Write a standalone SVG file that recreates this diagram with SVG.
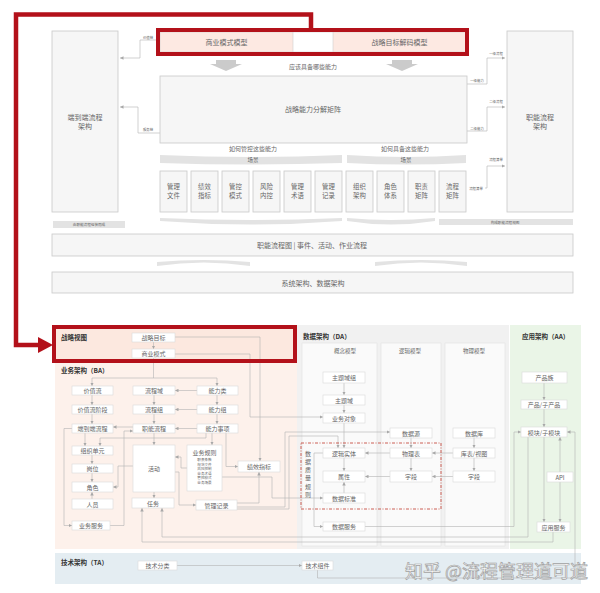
<svg xmlns="http://www.w3.org/2000/svg" width="600" height="593" viewBox="0 0 600 593">
<defs>
<marker id="a" viewBox="0 0 6 6" refX="6" refY="3" markerUnits="userSpaceOnUse" markerWidth="3.5" markerHeight="3.5" orient="auto"><path d="M0,0 L6,3 L0,6 z" fill="#a8a8a8"/></marker>
</defs>
<style>
text{font-family:"Noto Sans CJK SC","Noto Sans",sans-serif;fill:#666;text-anchor:middle;dominant-baseline:central}
.s7{font-size:7px}.s65{font-size:6.4px}.s6{font-size:6px}.s5{font-size:5.5px}.s4{font-size:3.6px}.s3{font-size:3.4px}
.tl{font-size:6.5px;font-weight:bold;fill:#333;text-anchor:start}
.g{fill:#f6f6f6;stroke:#c9c9c9;stroke-width:0.8}
.n{fill:#fff;stroke:#d9d9d9;stroke-width:0.6}
.band{fill:#e3e3e3}
.ln{fill:none;stroke:#b3b3b3;stroke-width:0.6}
.red{fill:none;stroke:#b3111a;stroke-width:4.5}
</style>

<!-- backgrounds bottom -->
<rect x="55" y="325" width="242" height="224" fill="#fdf1eb"/>
<rect x="297" y="325" width="212" height="224" fill="#f1f1f1"/>
<rect x="302" y="343" width="75" height="203" fill="#fafafa" stroke="#e2e2e2" stroke-width="0.6"/>
<rect x="381" y="343" width="60" height="203" fill="#fafafa" stroke="#e2e2e2" stroke-width="0.6"/>
<rect x="445" y="343" width="60" height="203" fill="#fafafa" stroke="#e2e2e2" stroke-width="0.6"/>
<rect x="510" y="325" width="71" height="224" fill="#eaf5e7"/>
<rect x="55" y="553" width="526" height="31" fill="#e4edf2"/>
<rect x="54" y="327" width="241" height="34" fill="#fce8df"/>

<!-- connectors -->
<g id="connectors">
<path class="ln" d="M160 40 L140 40 L140 58 L120 58" marker-end="url(#a)"/>
<path class="ln" d="M160 133 L138 133 L138 107 L120 107" marker-end="url(#a)"/>
<path class="ln" d="M467 84 L487 84 L487 58 L505 58" marker-end="url(#a)"/>
<path class="ln" d="M467 131 L487 131 L487 107 L505 107" marker-end="url(#a)"/>
<path class="ln" d="M485 188 L487 188 L487 166 L505 166" marker-end="url(#a)"/>
<path class="ln" d="M153.5 342 L153.5 349" marker-end="url(#a)"/>
<path class="ln" d="M153.5 358 L153.5 378 M92 378 L217 378"/>
<path class="ln" d="M92 378 L92 386" marker-end="url(#a)"/>
<path class="ln" d="M217 378 L217 386" marker-end="url(#a)"/>
<path class="ln" d="M175 337 L260 337 L260 461" marker-end="url(#a)"/>
<path class="ln" d="M175 354 L250 354 L250 417 L323 417" marker-end="url(#a)"/>
<path class="ln" d="M92 395 L92 405" marker-end="url(#a)"/>
<path class="ln" d="M92 414 L92 424" marker-end="url(#a)"/>
<path class="ln" d="M154 395 L154 405" marker-end="url(#a)"/>
<path class="ln" d="M154 414 L154 424" marker-end="url(#a)"/>
<path class="ln" d="M217 395 L217 405" marker-end="url(#a)"/>
<path class="ln" d="M217 414 L217 424" marker-end="url(#a)"/>
<path class="ln" d="M197 390.5 L175 390.5" marker-end="url(#a)"/>
<path class="ln" d="M197 409.5 L175 409.5" marker-end="url(#a)"/>
<path class="ln" d="M197 428.5 L175 428.5" marker-end="url(#a)"/>
<path class="ln" d="M133 427 L113 427" marker-end="url(#a)"/>
<path class="ln" d="M110 525.5 L124 525.5 L124 431 L133 431" marker-end="url(#a)"/>
<path class="ln" d="M72 428.5 L64 428.5 L64 525.5 L72 525.5" marker-end="url(#a)"/>
<path class="ln" d="M85 433 L85 446" marker-end="url(#a)"/>
<path class="ln" d="M206 433 L206 438 L100 438 L100 446" marker-end="url(#a)"/>
<path class="ln" d="M154 433 L154 445" marker-end="url(#a)"/>
<path class="ln" d="M212 433 L212 445" marker-end="url(#a)"/>
<path class="ln" d="M226 433 L226 466.5 L238 466.5" marker-end="url(#a)"/>
<path class="ln" d="M187 468 L181 468 L181 457 L175 457" marker-end="url(#a)"/>
<path class="ln" d="M154 492 L154 498" marker-end="url(#a)"/>
<path class="ln" d="M175 472 L179 472 L179 505 L196 505" marker-end="url(#a)"/>
<path class="ln" d="M133 466 L118 466 L118 487 L113 487" marker-end="url(#a)"/>
<path class="ln" d="M92 455 L92 464" marker-end="url(#a)"/>
<path class="ln" d="M92 473 L92 482" marker-end="url(#a)"/>
<path class="ln" d="M92 499 L92 492" marker-end="url(#a)"/>
<path class="ln" d="M237 503 L259 503 L259 472" marker-end="url(#a)"/>
<path class="ln" d="M222 477 L272 477 L272 498 L323 498" marker-end="url(#a)"/>
<path class="ln" d="M237 507 L285 507 L285 432 L390 432" marker-end="url(#a)"/>
<path class="ln" d="M237 509 L289 509 L289 436 L338 436 L338 448" marker-end="url(#a)"/>
<path class="ln" d="M344 383 L344 395" marker-end="url(#a)"/>
<path class="ln" d="M344 405 L344 413" marker-end="url(#a)"/>
<path class="ln" d="M344 423 L344 448" marker-end="url(#a)"/>
<path class="ln" d="M411 438 L411 448" marker-end="url(#a)"/>
<path class="ln" d="M411 458 L411 471" marker-end="url(#a)"/>
<path class="ln" d="M390 453 L365 453" marker-end="url(#a)"/>
<path class="ln" d="M390 476.5 L365 476.5" marker-end="url(#a)"/>
<path class="ln" d="M344 458 L344 471" marker-end="url(#a)"/>
<path class="ln" d="M344 493 L344 482" marker-end="url(#a)"/>
<path class="ln" d="M474 438 L474 448" marker-end="url(#a)"/>
<path class="ln" d="M474 458 L474 471" marker-end="url(#a)"/>
<path class="ln" d="M453 453 L432 453" marker-end="url(#a)"/>
<path class="ln" d="M453 476.5 L432 476.5" marker-end="url(#a)"/>
<path class="ln" d="M323 453 L314 453 L314 526.5 L323 526.5" marker-end="url(#a)"/>
<path class="ln" d="M365 526.5 L514 526.5 L514 432 L521 432" marker-end="url(#a)"/>
<path class="ln" d="M544 383 L544 400" marker-end="url(#a)"/>
<path class="ln" d="M544 409 L544 427" marker-end="url(#a)"/>
<path class="ln" d="M544 437 L544 522" marker-end="url(#a)"/>
<path class="ln" d="M560 472 L560 437" marker-end="url(#a)"/>
<path class="ln" d="M560 482 L560 522" marker-end="url(#a)"/>
<path class="ln" d="M317.5 570 L317.5 578 L575 578 L575 432 L567 432" marker-end="url(#a)"/>
<path class="ln" d="M177 565.5 L302 565.5" marker-end="url(#a)"/>
<path class="ln" d="M553 532 L553 542 L142 542 L142 508" marker-end="url(#a)"/>
<path class="ln" d="M528 437 L528 537 L162 537 L162 508" marker-end="url(#a)"/>
</g>

<!-- red highlight -->
<path class="red" d="M311 30 L311 14.5 L16 14.5 L16 345 L40 345"/>
<polygon points="38,337 53,345 38,353" fill="#b3111a"/>

<!-- top section -->
<g id="top-models">
<rect x="160" y="32" width="306" height="20" fill="#fff" stroke="#d0d0d0" stroke-width="0.6"/>
<rect x="160" y="32" width="133" height="20" fill="#fde9e2" stroke="#d0d0d0" stroke-width="0.6"/>
<rect x="333" y="32" width="133" height="20" fill="#fde9e2" stroke="#d0d0d0" stroke-width="0.6"/>
<text class="s7" x="226.5" y="42">商业模式模型</text>
<text class="s7" x="399.5" y="42">战略目标解码模型</text>
<rect x="158" y="30" width="309" height="24" fill="none" stroke="#b3111a" stroke-width="4"/>
</g>
<g id="down-arrows" fill="#cbcbcb">
<polygon points="216,60 236,60 236,64 242,64 226,71 210,64 216,64"/>
<polygon points="392,60 412,60 412,64 418,64 402,71 386,64 392,64"/>
</g>
<text class="s6" x="313" y="66">应该具备哪些能力</text>

<g id="e2e-arch"><rect class="g" x="52" y="31" width="66" height="181"/><text class="s7" x="85" y="117">端到端流程</text><text class="s7" x="85" y="126">架构</text></g>
<g id="func-arch"><rect class="g" x="507" y="31" width="66" height="181"/><text class="s7" x="540" y="117">职能流程</text><text class="s7" x="540" y="126">架构</text></g>
<g id="matrix"><rect class="g" x="160" y="76" width="307" height="67"/><text class="s7" x="313" y="109">战略能力分解矩阵</text></g>

<g id="small-labels">
<text class="s3" x="148" y="37">价值链</text>
<text class="s3" x="148" y="129">服务链</text>
<text class="s3" x="477" y="80.5">一级能力</text>
<text class="s3" x="496" y="53">一级流程</text>
<text class="s3" x="477" y="128">二级能力</text>
<text class="s3" x="496" y="101">二级流程</text>
<text class="s3" x="476" y="188">流程清单</text>
<text class="s3" x="496" y="159">流程清单</text>
</g>

<text class="s6" x="253" y="148">如何管控这些能力</text>
<text class="s6" x="405" y="148">如何具备这些能力</text>

<g id="bands">
<path class="band" d="M160 155 Q251 159 342 155 L342 163 Q251 166 160 163 Z"/>
<path class="band" d="M347 155 Q406 159 466 155 L466 163 Q406 166 347 163 Z"/>
<text class="s5" x="253" y="160">场景</text>
<text class="s5" x="406" y="160">场景</text>
<path class="band" d="M160 218 Q251 222 342 218 L342 221 Q251 228 160 221 Z"/>
<path class="band" d="M347 218 Q391 222 435 218 L435 221 Q391 228 347 221 Z"/>
<path class="band" d="M439 219 L573 219 L573 225 L439 225 Z"/>
<text class="s4" x="505" y="222">构成职能流程视图</text>
<path class="band" d="M53 221 L125 221 L125 228 L53 228 Z"/>
<text class="s4" x="89" y="224.5">由职能流程组装而成</text>
<path class="band" d="M157 266 Q204 259 250 266 L250 262 Q204 258 157 262 Z"/>
<path class="band" d="M375 266 Q421 259 467 266 L467 262 Q421 258 375 262 Z"/>
</g>

<g id="scene-boxes">
<rect class="g" x="160" y="171" width="27" height="41"/><text class="s65" x="173.5" y="186.5">管理</text><text class="s65" x="173.5" y="195.5">文件</text>
<rect class="g" x="191" y="171" width="27" height="41"/><text class="s65" x="204.5" y="186.5">绩效</text><text class="s65" x="204.5" y="195.5">指标</text>
<rect class="g" x="222" y="171" width="27" height="41"/><text class="s65" x="235.5" y="186.5">管控</text><text class="s65" x="235.5" y="195.5">模式</text>
<rect class="g" x="253" y="171" width="27" height="41"/><text class="s65" x="266.5" y="186.5">风险</text><text class="s65" x="266.5" y="195.5">内控</text>
<rect class="g" x="284" y="171" width="27" height="41"/><text class="s65" x="297.5" y="186.5">管理</text><text class="s65" x="297.5" y="195.5">术语</text>
<rect class="g" x="315" y="171" width="27" height="41"/><text class="s65" x="328.5" y="186.5">管理</text><text class="s65" x="328.5" y="195.5">记录</text>
<rect class="g" x="346" y="171" width="27" height="41"/><text class="s65" x="359.5" y="186.5">组织</text><text class="s65" x="359.5" y="195.5">架构</text>
<rect class="g" x="377" y="171" width="27" height="41"/><text class="s65" x="390.5" y="186.5">角色</text><text class="s65" x="390.5" y="195.5">体系</text>
<rect class="g" x="408" y="171" width="27" height="41"/><text class="s65" x="421.5" y="186.5">职责</text><text class="s65" x="421.5" y="195.5">矩阵</text>
<rect class="g" x="439" y="171" width="27" height="41"/><text class="s65" x="452.5" y="186.5">流程</text><text class="s65" x="452.5" y="195.5">矩阵</text>
</g>

<g id="func-flow"><rect class="g" x="52" y="234" width="521" height="22"/><text class="s7" x="312" y="245">职能流程图 | 事件、活动、作业流程</text></g>
<g id="sys-arch"><rect class="g" x="52" y="272" width="521" height="21"/><text class="s7" x="313" y="283">系统架构、数据架构</text></g>

<text class="tl" x="61" y="337">战略视图</text>
<text class="tl" x="61" y="370">业务架构（BA）</text>
<text class="tl" x="303" y="336">数据架构（DA）</text>
<text class="tl" x="522" y="336">应用架构（AA）</text>
<text class="tl" x="61" y="562">技术架构（TA）</text>
<text class="s5" x="345" y="351">概念模型</text>
<text class="s5" x="410" y="351">逻辑模型</text>
<text class="s5" x="474" y="351">物理模型</text>

<g id="n-goal"><rect class="n" x="132" y="333" width="43" height="9"/><text class="s6" x="153.5" y="337.5">战略目标</text></g>
<g id="n-bizmodel"><rect class="n" x="132" y="349" width="43" height="9"/><text class="s6" x="153.5" y="353.5">商业模式</text></g>
<rect x="54" y="327" width="241" height="34" fill="none" stroke="#b3111a" stroke-width="4"/>

<g id="n-vs"><rect class="n" x="72" y="386" width="41" height="9"/><text class="s6" x="92.5" y="390.5">价值流</text></g>
<g id="n-vss"><rect class="n" x="72" y="405" width="41" height="9"/><text class="s6" x="92.5" y="409.5">价值流阶段</text></g>
<g id="n-e2e"><rect class="n" x="72" y="424" width="41" height="9"/><text class="s6" x="92.5" y="428.5">端到端流程</text></g>
<g id="n-org"><rect class="n" x="72" y="446" width="41" height="9"/><text class="s6" x="92.5" y="450.5">组织单元</text></g>
<g id="n-post"><rect class="n" x="72" y="464" width="41" height="9"/><text class="s6" x="92.5" y="468.5">岗位</text></g>
<g id="n-role"><rect class="n" x="72" y="482" width="41" height="10"/><text class="s6" x="92.5" y="487">角色</text></g>
<g id="n-person"><rect class="n" x="72" y="499" width="41" height="10"/><text class="s6" x="92.5" y="504">人员</text></g>
<g id="n-bizsvc"><rect class="n" x="72" y="521" width="38" height="9"/><text class="s6" x="91" y="525.5">业务服务</text></g>
<g id="n-pdomain"><rect class="n" x="133" y="386" width="42" height="9"/><text class="s6" x="154" y="390.5">流程域</text></g>
<g id="n-pgroup"><rect class="n" x="133" y="405" width="42" height="9"/><text class="s6" x="154" y="409.5">流程组</text></g>
<g id="n-fproc"><rect class="n" x="133" y="424" width="42" height="9"/><text class="s6" x="154" y="428.5">职能流程</text></g>
<g id="n-activity"><rect class="n" x="133" y="445" width="42" height="47"/><text class="s6" x="154" y="468.5">活动</text></g>
<g id="n-task"><rect class="n" x="132" y="498" width="42" height="10"/><text class="s6" x="153" y="503">任务</text></g>
<g id="n-capcls"><rect class="n" x="197" y="386" width="41" height="9"/><text class="s6" x="217.5" y="390.5">能力类</text></g>
<g id="n-capgrp"><rect class="n" x="197" y="405" width="41" height="9"/><text class="s6" x="217.5" y="409.5">能力组</text></g>
<g id="n-capitem"><rect class="n" x="197" y="424" width="41" height="9"/><text class="s6" x="217.5" y="428.5">能力事项</text></g>
<g id="n-rules"><rect class="n" x="187" y="445" width="35" height="46"/><text class="s6" x="204.5" y="452">业务规则</text>
<text class="s4" x="204.5" y="459.5">职责条款</text><text class="s4" x="204.5" y="464">规范文件</text><text class="s4" x="204.5" y="468.5">风险控制</text><text class="s4" x="204.5" y="473">业务术语</text><text class="s4" x="204.5" y="477.5">管控模式</text><text class="s4" x="204.5" y="482">业务场景</text></g>
<g id="n-mgmtrec"><rect class="n" x="196" y="500" width="41" height="10"/><text class="s6" x="216.5" y="505">管理记录</text></g>
<g id="n-kpi"><rect class="n" x="238" y="461" width="42" height="11"/><text class="s6" x="259" y="466.5">绩效指标</text></g>

<rect x="301" y="443" width="140" height="66" fill="none" stroke="#c0392b" stroke-width="0.8" stroke-dasharray="3 1.5 1 1.5"/>
<g id="dq-label">
<text class="s6" x="308" y="453">数</text><text class="s6" x="308" y="461.3">据</text><text class="s6" x="308" y="469.6">质</text><text class="s6" x="308" y="477.9">量</text><text class="s6" x="308" y="486.2">规</text><text class="s6" x="308" y="494.5">则</text>
</g>
<g id="n-sdg"><rect class="n" x="323" y="372" width="42" height="11"/><text class="s6" x="344" y="377.5">主题域组</text></g>
<g id="n-sd"><rect class="n" x="323" y="395" width="42" height="10"/><text class="s6" x="344" y="400">主题域</text></g>
<g id="n-bo"><rect class="n" x="323" y="413" width="42" height="10"/><text class="s6" x="344" y="418">业务对象</text></g>
<g id="n-ds"><rect class="n" x="390" y="428" width="42" height="10"/><text class="s6" x="411" y="433">数据源</text></g>
<g id="n-db"><rect class="n" x="453" y="428" width="42" height="10"/><text class="s6" x="474" y="433">数据库</text></g>
<g id="n-le"><rect class="n" x="323" y="448" width="42" height="10"/><text class="s6" x="344" y="453">逻辑实体</text></g>
<g id="n-pt"><rect class="n" x="390" y="448" width="42" height="10"/><text class="s6" x="411" y="453">物理表</text></g>
<g id="n-tv"><rect class="n" x="453" y="448" width="42" height="10"/><text class="s6" x="474" y="453">库表/视图</text></g>
<g id="n-attr"><rect class="n" x="323" y="471" width="42" height="11"/><text class="s6" x="344" y="476.5">属性</text></g>
<g id="n-field1"><rect class="n" x="390" y="471" width="42" height="11"/><text class="s6" x="411" y="476.5">字段</text></g>
<g id="n-field2"><rect class="n" x="453" y="471" width="42" height="11"/><text class="s6" x="474" y="476.5">字段</text></g>
<g id="n-dstd"><rect class="n" x="323" y="493" width="42" height="10"/><text class="s6" x="344" y="498">数据标准</text></g>
<g id="n-dsvc"><rect class="n" x="323" y="522" width="42" height="9"/><text class="s6" x="344" y="526.5">数据服务</text></g>

<g id="n-pf"><rect class="n" x="522" y="372" width="45" height="11"/><text class="s6" x="544.5" y="377.5">产品族</text></g>
<g id="n-prod"><rect class="n" x="521" y="400" width="46" height="9"/><text class="s6" x="544" y="404.5">产品/子产品</text></g>
<g id="n-mod"><rect class="n" x="521" y="427" width="46" height="10"/><text class="s6" x="544" y="432">模块/子模块</text></g>
<g id="n-api"><rect class="n" x="547" y="472" width="26" height="10"/><text class="s6" x="560" y="477">API</text></g>
<g id="n-appsvc"><rect class="n" x="537" y="522" width="33" height="10"/><text class="s6" x="553.5" y="527">应用服务</text></g>

<g id="n-techcls"><rect class="n" x="138" y="561" width="39" height="9"/><text class="s6" x="157.5" y="565.5">技术分类</text></g>
<g id="n-techcomp"><rect class="n" x="302" y="561" width="31" height="9"/><text class="s6" x="317.5" y="565.5">技术组件</text></g>

<text x="405" y="570" style="font-size:18px;text-anchor:start;fill:#fff;stroke:#a0a0a0;stroke-width:0.7">知乎 @流程管理道可道</text>
</svg>
